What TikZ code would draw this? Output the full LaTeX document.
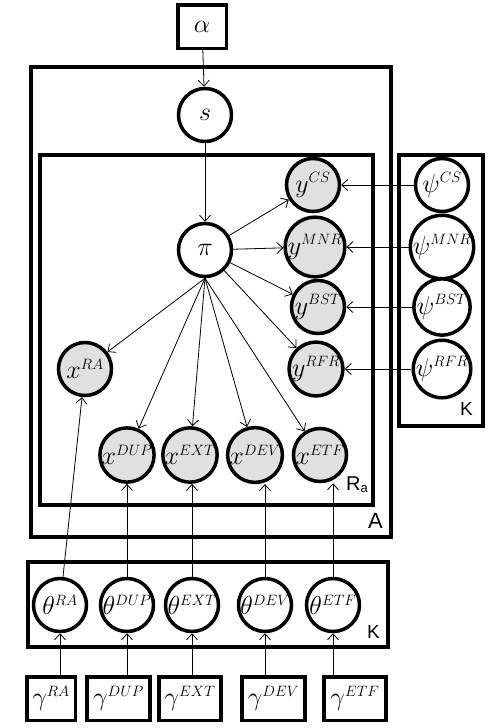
\RequirePackage{fix-cm}
\documentclass[tikz,border=0pt]{standalone}
\usepackage{fontspec}
\newfontfamily\labfont{Liberation Sans}
\DeclareMathSizes{26}{26}{15}{11}
\usetikzlibrary{arrows.meta}
\definecolor{obsgray}{RGB}{224,224,224}
\begin{document}
\begin{tikzpicture}[x=1pt,y=-1pt,
  every node/.style={font=\fontsize{26}{28}\selectfont},
  lat/.style={circle, draw, line width=3.5pt, minimum size=53pt, inner sep=0pt, fill=white},
  obs/.style={lat, fill=obsgray},
  hyper/.style={rectangle, draw, line width=3.5pt, minimum height=43.5pt, inner sep=0pt, fill=white},
  plate/.style={draw, line width=3.5pt},
  arr/.style={-{Straight Barb[length=6pt,width=11pt]}, line width=0.8pt},
  platelab/.style={inner sep=0pt, anchor=base west}]
\useasboundingbox (0,0) rectangle (499,728);
% plates
\draw[plate] (31,67) rectangle (391,537);
\draw[plate] (40,155) rectangle (373,505);
\draw[plate] (399,155) rectangle (483,426);
\draw[plate] (28,562) rectangle (388,647);
% nodes
\node[hyper, minimum width=48.5pt] (alpha) at (202,26.5) {$\alpha$};
\node[lat] (s) at (205,115) {$s$};
\node[lat] (pi) at (205,250) {$\pi$};
\node[obs] (yCS)  at (313,185) {$y^{CS}$};
\node[obs] (yMNR) at (315,247) {$y^{MNR}$};
\node[obs] (yBST) at (318,307) {$y^{BST}$};
\node[obs] (yRFR) at (316,369) {$y^{RFR}$};
\node[lat] (psiCS)  at (442,185) {$\psi^{CS}$};
\node[lat] (psiMNR) at (442,247) {$\psi^{MNR}$};
\node[lat] (psiBST) at (442,307) {$\psi^{BST}$};
\node[lat] (psiRFR) at (442,369) {$\psi^{RFR}$};
\node[obs] (xRA)  at (85,369) {$x^{RA}$};
\node[obs] (xDUP) at (127,455) {$x^{DUP}$};
\node[obs] (xEXT) at (190,455) {$x^{EXT}$};
\node[obs] (xDEV) at (255,455) {$x^{DEV}$};
\node[obs] (xETF) at (320,455) {$x^{ETF}$};
\node[lat] (thRA)  at (60,605) {$\theta^{RA}$};
\node[lat] (thDUP) at (127,605) {$\theta^{DUP}$};
\node[lat] (thEXT) at (192,605) {$\theta^{EXT}$};
\node[lat] (thDEV) at (265,605) {$\theta^{DEV}$};
\node[lat] (thETF) at (333,605) {$\theta^{ETF}$};
\node[hyper, minimum width=48.5pt] (gRA)  at (51,698.5) {$\gamma^{RA}$};
\node[hyper, minimum width=63pt]   (gDUP) at (118.5,698.5) {$\gamma^{DUP}$};
\node[hyper, minimum width=62pt]   (gEXT) at (190,698.5) {$\gamma^{EXT}$};
\node[hyper, minimum width=63pt]   (gDEV) at (273.5,698.5) {$\gamma^{DEV}$};
\node[hyper, minimum width=62pt]   (gETF) at (355,698.5) {$\gamma^{ETF}$};
% plate labels
\node[platelab, font=\labfont\fontsize{19}{19}\selectfont] (labK1) at (460,415) {K};
\node[platelab, font=\labfont\fontsize{19}{19}\selectfont] (labK2) at (367,638) {K};
\node[platelab, font=\labfont\fontsize{22}{22}\selectfont] (labA) at (368,528) {A};
\node[platelab, font=\labfont\fontsize{20}{20}\selectfont] (labR) at (346,490) {R\raisebox{-2.5pt}{\fontsize{13}{13}\selectfont a}};
% edges
\draw[arr] (alpha) -- (s);
\draw[arr] (s) -- (pi);
\foreach \n in {yCS,yMNR,yBST,yRFR} \draw[arr] (pi) -- (\n);
\foreach \n in {CS,MNR,BST,RFR} \draw[arr] (psi\n) -- (y\n);
\foreach \n in {xRA,xDUP,xEXT,xDEV,xETF} \draw[arr] (pi.south) -- (\n);
\draw[arr] (thRA) -- (xRA);
\foreach \n in {DUP,EXT,DEV,ETF} \draw[arr] (th\n.north) -- (th\n.north |- x\n.south);
\foreach \n in {RA,DUP,EXT,DEV,ETF} \draw[arr] (th\n.south |- g\n.north) -- (th\n.south);
\end{tikzpicture}
\end{document}
